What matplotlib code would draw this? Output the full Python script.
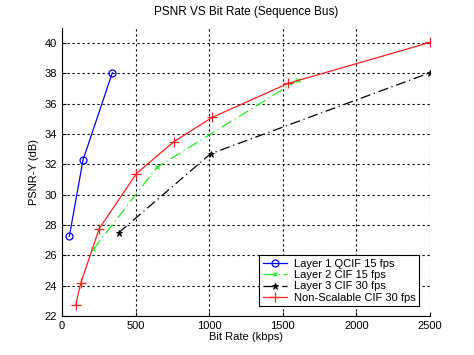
import matplotlib
matplotlib.use("Agg")
import matplotlib.pyplot as plt

plt.rcParams['font.family'] = ['Liberation Sans', 'DejaVu Sans']

l1_x = [50, 143, 342]
l1_y = [27.26, 32.3, 38.05]
l2_x = [213, 644, 1600]
l2_y = [26.4, 31.8, 37.55]
l3_x = [386, 1009, 2500]
l3_y = [27.5, 32.7, 38.05]
ns_x = [93, 127, 252, 506, 760, 1020, 1537, 2500]
ns_y = [22.7, 24.15, 27.75, 31.4, 33.5, 35.1, 37.35, 40.05]
labels = ['Layer 1 QCIF 15 fps', 'Layer 2 CIF 15 fps', 'Layer 3 CIF 30 fps', 'Non-Scalable CIF 30 fps']
xticks = [0, 500, 1000, 1500, 2000, 2500]
yticks = [22, 24, 26, 28, 30, 32, 34, 36, 38, 40]

fig = plt.figure(figsize=(4.74, 3.55), dpi=100)
ax = fig.add_axes([62/474, 39/355, 368/474, 288/355])

lw = 0.9
ax.plot(l1_x, l1_y, '-o', color='#0000ff', lw=lw, ms=5, mfc='none', mew=0.9, label=labels[0])
ax.plot(l2_x, l2_y, '-.x', color='#22ee22', lw=lw, ms=3, mew=0.9, dashes=(9, 3, 1, 3), label=labels[1])
ax.plot(l3_x, l3_y, '-.*', color='black', lw=lw, ms=5, mew=0.6, dashes=(8, 3, 1, 3), label=labels[2])
ax.plot(ns_x, ns_y, '-+', color='#ff2020', lw=lw, ms=7, mew=0.9, label=labels[3])

ax.set_xlim(0, 2500)
ax.set_ylim(22, 41)
ax.set_xticks(xticks)
ax.set_yticks(yticks)
ax.tick_params(direction='in', labelsize=8, length=3)
ax.grid(True, linestyle=(0, (2, 2.5)), color='black', lw=0.8)
ax.spines['top'].set_visible(False)
ax.spines['right'].set_visible(False)

ax.set_title('PSNR VS Bit Rate (Sequence Bus)', fontsize=8.5, pad=9)
ax.set_xlabel('Bit Rate (kbps)', fontsize=8, labelpad=1)
ax.set_ylabel('PSNR-Y (dB)', fontsize=8, labelpad=4)

leg = ax.legend(loc='lower right', fontsize=8, fancybox=False, framealpha=1,
                edgecolor='black', borderpad=0.3, labelspacing=0.12, handlelength=2.2,
                handletextpad=0.6, bbox_to_anchor=(0.985, 0.015))
leg.get_frame().set_linewidth(0.8)

fig.savefig('out.png', dpi=100)
